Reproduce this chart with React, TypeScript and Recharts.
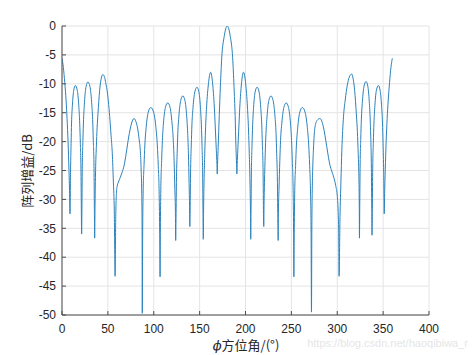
/**
 * Array gain pattern vs. azimuth, MATLAB-style line plot.
 */

import { LineChart, Line, XAxis, YAxis, CartesianGrid } from "recharts";

const xTicks = [0, 50, 100, 150, 200, 250, 300, 350, 400];
const yTicks = [-50, -45, -40, -35, -30, -25, -20, -15, -10, -5, 0];

// [phi (deg), gain (dB)], left sidelobes up to the first minimum
const lobesLeft: [number, number][] = [
  [0, -5.6], [1.5, -7.2], [3, -9.8], [4.5, -13], [5.5, -16], [6.6, -20], [7.6, -25], [8.2, -28.5], [8.7, -32.5],
  [9.3, -25.3], [9.9, -20.3], [10.4, -16.8], [11.3, -13.8], [12.8, -11.1], [14.5, -10.3], [16.6, -11.1], [18.3, -13.8], [19.3, -16.8], [20.0, -20.3], [20.7, -25.3], [21.1, -32.3], [21.4, -36.0],
  [21.7, -31.7], [22.1, -24.7], [22.8, -19.7], [23.5, -16.2], [24.5, -13.2], [26.2, -10.5], [28.3, -9.7], [30.5, -10.5], [32.3, -13.2], [33.4, -16.2], [34.1, -19.7], [34.9, -24.7], [35.3, -31.7], [35.6, -36.7],
  [36.0, -31], [36.6, -25], [37.4, -21], [38.3, -17.5], [39.2, -15.2], [41.0, -11.2], [42.6, -9.2], [44.5, -8.4], [46.5, -8.9], [47.6, -9.8], [49, -11], [50.5, -13], [52, -15.7], [53.5, -19], [54.8, -22], [56, -27], [57, -32], [57.9, -43.3],
  [58.5, -34], [59.3, -29], [60, -27.8], [61.5, -27], [63.5, -26.2], [65.5, -25.3], [67.6, -24.2], [70, -22], [72.7, -19.2], [75.5, -17], [78.5, -16], [80.5, -16.5], [82.5, -17.8], [84, -19.5], [85.3, -21.5], [86.2, -24.5], [86.9, -29], [87.3, -35], [87.5, -49.7],
  [87.9, -36.1], [88.4, -29.1], [89.4, -24.1], [90.3, -20.6], [91.7, -17.6], [94.0, -14.9], [96.8, -14.1], [99.8, -14.9], [102.4, -17.6], [103.9, -20.6], [104.9, -24.1], [105.9, -29.1], [106.5, -36.1], [106.9, -43.4],
  [107.2, -35.3], [107.7, -28.3], [108.6, -23.3], [109.4, -19.8], [110.6, -16.8], [112.7, -14.1], [115.2, -13.3], [117.8, -14.1], [119.9, -16.8], [121.3, -19.8], [122.2, -23.3], [123.0, -28.3], [123.6, -32], [123.9, -37.1],
  [124.2, -34.1], [124.7, -27.1], [125.5, -22.1], [126.2, -18.6], [127.4, -15.6], [129.4, -12.9], [131.7, -12.1], [134.0, -12.9], [135.9, -15.6], [137.0, -18.6], [137.8, -22.1], [138.5, -27.1], [139.0, -31], [139.3, -34.7],
  [139.6, -32.6], [140.1, -25.6], [140.9, -20.6], [141.6, -17.1], [142.8, -14.1], [144.8, -11.4], [147.1, -10.6], [149.2, -11.4], [150.9, -14.1], [151.9, -17.1], [152.6, -20.6], [153.3, -25.6], [153.7, -32.6], [154.0, -36.9],
  [154.3, -32], [154.8, -27], [155.6, -22], [156.4, -18], [157.6, -14], [159.6, -10], [162, -8], [164.2, -10], [166.0, -14], [167.2, -18], [168.2, -21.5], [168.9, -24], [169.2, -25.6],
];

// main beam between the two shallow minima
const lobeMain: [number, number][] = [
  [169.5, -24], [170.2, -21], [171.4, -15.5], [172.6, -10.5], [174.1, -5.5], [176.8, -1.8], [180.1, 0], [183.4, -1.8], [186.0, -5.5], [187.5, -10.5], [188.7, -15.5], [189.6, -21], [190.3, -24], [190.6, -25.6],
];

const lobesRight: [number, number][] = [
  [190.9, -24], [191.6, -21.5], [192.6, -18], [193.8, -14], [195.6, -10], [197.8, -8], [200.2, -10], [202.1, -14], [203.3, -18], [204.1, -22], [204.9, -27], [205.4, -32], [205.7, -36.9],
  [206.0, -32.6], [206.4, -25.6], [207.1, -20.6], [207.8, -17.1], [208.8, -14.1], [210.5, -11.4], [212.6, -10.6], [214.8, -11.4], [216.6, -14.1], [217.7, -17.1], [218.4, -20.6], [219.2, -25.6], [219.6, -32.6], [219.9, -34.7],
  [220.2, -31], [220.7, -27.1], [221.5, -22.1], [222.3, -18.6], [223.5, -15.6], [225.4, -12.9], [227.8, -12.1], [230.1, -12.9], [232.1, -15.6], [233.3, -18.6], [234.0, -22.1], [234.8, -27.1], [235.3, -34.1], [235.6, -37.1],
  [235.9, -32], [236.5, -28.3], [237.4, -23.3], [238.2, -19.8], [239.6, -16.8], [241.8, -14.1], [244.4, -13.3], [246.9, -14.1], [249.0, -16.8], [250.2, -19.8], [251.0, -23.3], [251.9, -28.3], [252.4, -35.3], [252.7, -43.4],
  [253.1, -36.1], [253.6, -29.1], [254.6, -24.1], [255.5, -20.6], [256.9, -17.6], [259.2, -14.9], [262.0, -14.1], [264.9, -14.9], [267.4, -17.6], [268.9, -20.6], [269.9, -24.1], [270.9, -29.1], [271.5, -36.1], [271.9, -49.5],
  [272.3, -35], [272.7, -29], [273.2, -25], [274.0, -21.5], [275.7, -17.5], [278.2, -16.3], [281.3, -16], [284.8, -17.4], [288.5, -20.8], [290.5, -22.8], [292.1, -24.1], [294.0, -25.1], [295.7, -25.9], [298.3, -27.6], [300.1, -29.5], [301.0, -32], [301.5, -35], [302.0, -43.3],
  [303, -33], [304, -27], [305, -21.5], [306.8, -15.7], [308.7, -12.8], [311, -10.2], [313, -8.9], [315.7, -8.3], [317.4, -9.2], [319.0, -11.2], [320.8, -15.2], [321.7, -17.5], [322.6, -21], [323.4, -25], [324.0, -31], [324.2, -36.7],
  [324.5, -31.6], [324.9, -24.6], [325.6, -19.6], [326.3, -16.1], [327.4, -13.1], [329.2, -10.4], [331.3, -9.6], [333.3, -10.4], [334.9, -13.1], [335.9, -16.1], [336.6, -19.6], [337.2, -24.6], [337.6, -31.6], [337.9, -36.2],
  [338.2, -32.3], [338.6, -25.3], [339.3, -20.3], [340.0, -16.8], [341.0, -13.8], [342.7, -11.1], [344.8, -10.3], [346.7, -11.1], [348.3, -13.8], [349.3, -16.8], [349.9, -20.3], [350.6, -25.3], [351.2, -32.5],
  [351.7, -28.5], [352.3, -25], [353.3, -20], [354.4, -16], [355.5, -13], [357, -9.8], [358.5, -7.2], [360, -5.6],
];

const data = [...lobesLeft, ...lobeMain, ...lobesRight].map(([phi, gain]) => ({ phi, gain }));

const axisColor = "#4d4d4d";
const tickStyle = { fill: "#262626", fontSize: 12, fontFamily: "'Liberation Sans', Arial, sans-serif" };
const hiddenTick = { fill: "none", fontSize: 1 };
const labelFont = "'Noto Sans CJK SC', 'Liberation Sans', sans-serif";

export default function App() {
  return (
    <div style={{ position: "absolute", left: 0, top: 0, width: 474, height: 355, background: "#fff" }}>
      <LineChart width={474} height={355} data={data} margin={{ top: 26, right: 45, bottom: 10, left: 20 }}>
        <CartesianGrid stroke="#e4e4e4" />
        <XAxis
          dataKey="phi"
          type="number"
          domain={[0, 400]}
          ticks={xTicks}
          interval={0}
          allowDataOverflow
          height={30}
          tickSize={-4}
          tickMargin={13}
          stroke={axisColor}
          tick={tickStyle}
          label={{
            content: () => (
              <text x={246} y={350} textAnchor="middle" fontSize={13} fill="#262626" fontFamily={labelFont}>
                <tspan fontStyle="italic" fontFamily="'DejaVu Serif', serif">ϕ</tspan>
                <tspan>方位角/(°)</tspan>
              </text>
            ),
          }}
        />
        <XAxis
          xAxisId="top"
          orientation="top"
          type="number"
          domain={[0, 400]}
          ticks={xTicks}
          interval={0}
          tick={hiddenTick}
          tickSize={-4}
          height={0}
          stroke={axisColor}
        />
        <YAxis
          type="number"
          domain={[-50, 0]}
          ticks={yTicks}
          interval={0}
          allowDataOverflow
          width={42}
          tickSize={-4}
          tickMargin={10}
          stroke={axisColor}
          tick={tickStyle}
          label={{
            content: () => (
              <text
                x={32}
                y={171}
                textAnchor="middle"
                fontSize={13}
                fill="#262626"
                fontFamily={labelFont}
                transform="rotate(-90 32 171)"
              >
                阵列增益/dB
              </text>
            ),
          }}
        />
        <YAxis
          yAxisId="right"
          orientation="right"
          type="number"
          domain={[-50, 0]}
          ticks={yTicks}
          interval={0}
          tick={hiddenTick}
          tickSize={-4}
          width={0}
          stroke={axisColor}
        />
        <Line
          dataKey="gain"
          type="monotone"
          dot={false}
          stroke="#2b82bd"
          strokeWidth={1}
          isAnimationActive={false}
        />
      </LineChart>
      <div
        style={{
          position: "absolute",
          right: 6,
          top: 337,
          fontSize: 11,
          color: "#e6e6e6",
          fontFamily: "'Liberation Sans', Arial, sans-serif",
        }}
      >
        https://blog.csdn.net/haoqibiwa_r
      </div>
    </div>
  );
}
